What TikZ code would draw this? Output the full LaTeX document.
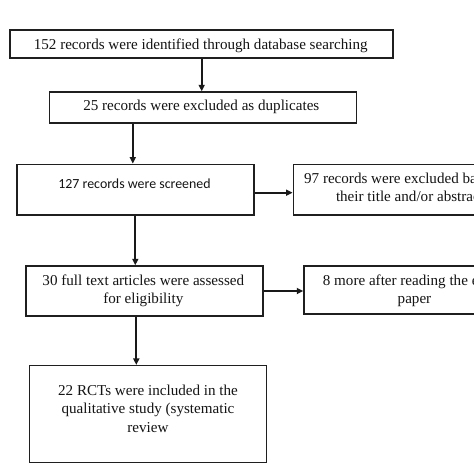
\documentclass[tikz,border=0pt]{standalone}
\usepackage{fontspec}
\setmainfont{Liberation Serif}
\newfontfamily\calibrifont{Carlito}
\usetikzlibrary{arrows.meta}
\tikzset{
  box/.style={draw=black!88, line width=1.5pt, inner sep=0pt, fill=white},
  txt/.style={anchor=base, inner sep=0pt, text=black!92, font=\fontsize{15.1}{18.5}\selectfont},
  sanstxt/.style={anchor=base, inner sep=0pt, text=black!92, font=\calibrifont\fontsize{13.9}{17}\selectfont},
  arr/.style={draw=black!90, line width=1.8pt, -{Triangle[length=6.5pt,width=6pt]}}
}
\begin{document}
\begin{tikzpicture}[x=1pt,y=-1pt]
\useasboundingbox[fill=white] (0,0) rectangle (474,474);
\begin{scope}
\clip (0,0) rectangle (474,474);
% boxes
\node[box, minimum width=383pt, minimum height=28pt] (b1) at (201.7,44.2) {};
\node[box, minimum width=307pt, minimum height=31pt] (b2) at (203,107.5) {};
\node[box, minimum width=237pt, minimum height=50.7pt] (b3) at (135.3,189.7) {};
\node[box, minimum width=234pt, minimum height=50.7pt] (b4) at (410.3,189.7) {};
\node[box, minimum width=237pt, minimum height=50pt] (b5) at (144.7,291) {};
\node[box, minimum width=221pt, minimum height=48.3pt] (b6) at (414.5,289.9) {};
\node[box, minimum width=237.4pt, minimum height=97pt] (b7) at (148,414.2) {};
% texts
\node[txt] (t1) at (200.7,49.5) {152 records were identified through database searching};
\node[txt] (t2) at (201.3,110.7) {25 records were excluded as duplicates};
\node[sanstxt] (t3) at (134.5,188.3) {127 records were screened};
\node[txt] (t4a) at (410,183.3) {97 records were excluded based on};
\node[txt] (t4b) at (410,201.7) {their title and/or abstract};
\node[txt] (t5a) at (143.3,285) {30 full text articles were assessed};
\node[txt] (t5b) at (143.3,303.3) {for eligibility};
\node[txt] (t6a) at (414.5,285) {8 more after reading the entire};
\node[txt] (t6b) at (414.5,303.3) {paper};
\node[txt] (t7a) at (148,395) {22 RCTs were included in the};
\node[txt] (t7b) at (148,413.5) {qualitative study (systematic};
\node[txt] (t7c) at (148,432) {review};
% connectors
\draw[arr] (b1.south) -- (b1.south |- b2.north);
\draw[arr] ([xshift=-2.5pt]b3.north |- b2.south) -- ([xshift=-2.5pt]b3.north);
\draw[arr] (b3.south) -- (b3.south |- b5.north);
\draw[arr] ([xshift=1pt]b3.south |- b5.south) -- ([xshift=1pt]b3.south |- b7.north);
\draw[arr] ([yshift=-3pt]b3.east) -- ([yshift=-3pt]b3.east -| b4.west);
\draw[arr] (b5.east) -- (b5.east -| b6.west);
\end{scope}
\end{tikzpicture}
\end{document}
